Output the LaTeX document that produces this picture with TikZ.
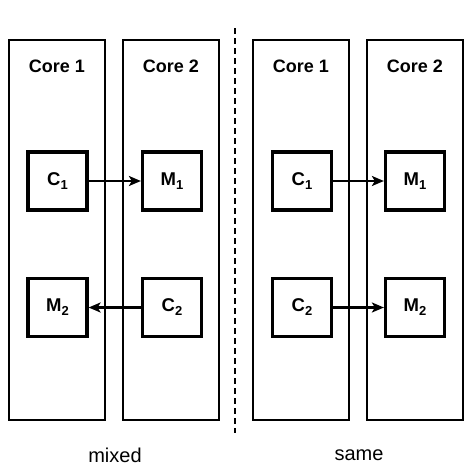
\documentclass[tikz,border=0pt]{standalone}
\usepackage{fontspec}
\setmainfont{Liberation Sans}
\usetikzlibrary{arrows.meta}
\newcommand{\idx}[1]{\raisebox{-4pt}{\fontsize{13}{14}\selectfont #1}}
\tikzstyle{core}=[draw, line width=2.2pt, minimum width=96pt, minimum height=380pt, inner sep=0pt]
\tikzstyle{task}=[draw, line width=3.2pt, minimum width=59pt, minimum height=58pt, inner sep=0pt, font=\fontsize{18.5}{20}\selectfont\bfseries]
\tikzstyle{corename}=[font=\fontsize{18}{20}\selectfont\bfseries]
\tikzstyle{link}=[line width=2.2pt, -{Stealth[length=12pt, width=10pt, inset=3pt]}]

\begin{document}
\begin{tikzpicture}[x=1pt, y=-1pt]
          \useasboundingbox (0, 0) rectangle (474, 474);
          % left half
          \node[core] (core1a) at (57, 230) {};
          \node[core] (core2a) at (171, 230) {};
          \node[corename] (name1a) at (57, 66) {Core 1};
          \node[corename] (name2a) at (171, 66) {Core 2};
          \node[task] (c1a) at (57.5, 181) {C\idx{1}};
          \node[task] (m1a) at (172, 181) {M\idx{1}};
          \node[task] (m2a) at (57.5, 307.5) {M\idx{2}};
          \node[task] (c2a) at (172, 307.5) {C\idx{2}};
          \draw[link] (c1a) -- (m1a);
          \draw[link] (c2a) -- (m2a);
          % right half
          \node[core] (core1b) at (301, 230) {};
          \node[core] (core2b) at (415, 230) {};
          \node[corename] (name1b) at (301, 66) {Core 1};
          \node[corename] (name2b) at (415, 66) {Core 2};
          \node[task] (c1b) at (302, 181) {C\idx{1}};
          \node[task] (m1b) at (415, 181) {M\idx{1}};
          \node[task] (c2b) at (302, 307.5) {C\idx{2}};
          \node[task] (m2b) at (415, 307.5) {M\idx{2}};
          \draw[link] (c1b) -- (m1b);
          \draw[link] (c2b) -- (m2b);
          % divider and captions
          \coordinate (divtop) at (235, 28);
          \coordinate (divbot) at (235, 433);
          \draw[line width=2.2pt, dash pattern=on 6pt off 4pt] (divtop) -- (divbot);
          \node[font=\fontsize{20}{22}\selectfont] (mixed) at (115, 455) {mixed};
          \node[font=\fontsize{20}{22}\selectfont] (same) at (359, 455) {same};
        \end{tikzpicture}
\end{document}
